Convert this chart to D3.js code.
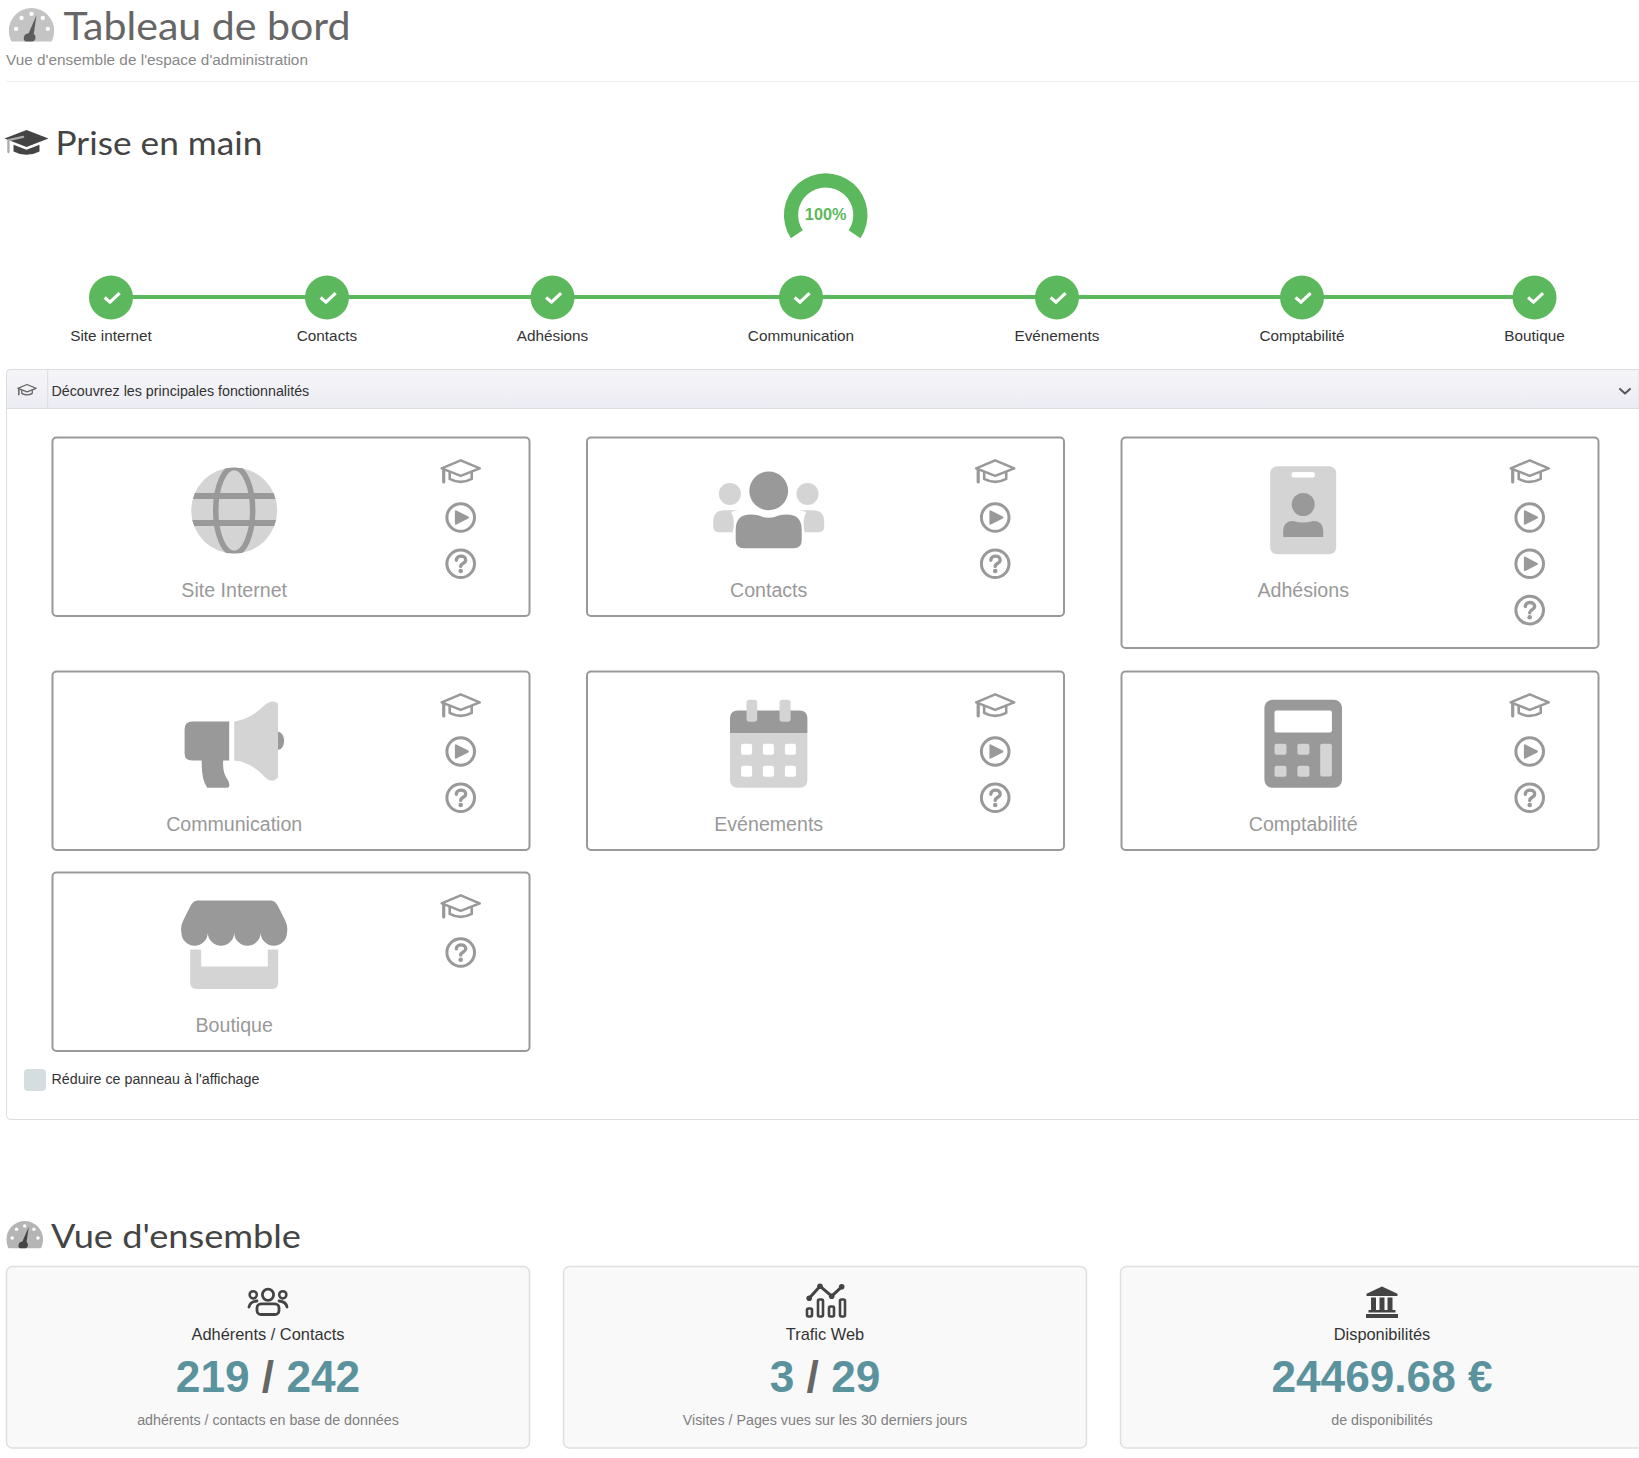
<!DOCTYPE html>
<html lang="fr">
<head>
<meta charset="utf-8">
<title>Tableau de bord</title>
<script src="https://cdn.jsdelivr.net/npm/d3@7"></script>
<style>
html, body { margin: 0; padding: 0; background: #fff; overflow: hidden; }
svg { display: block; }
text { font-family: "Liberation Sans", Arial, sans-serif; }
.head { font-family: Lato, "Open Sans", sans-serif; }
</style>
</head>
<body>
<div id="page"></div>
<script>
// values
const stepLabels = ["Site internet", "Contacts", "Adhésions", "Communication", "Evénements", "Comptabilité", "Boutique"];
const progressValue = [100];
const cardLabels = ["Site Internet", "Contacts", "Adhésions", "Communication", "Evénements", "Comptabilité", "Boutique"];
const cardIcons = ["globe", "people", "badge", "megaphone", "calendar", "calculator", "shop"];
const cardActions = [
    ["cap", "play", "help"],
    ["cap", "play", "help"],
    ["cap", "play", "play", "help"],
    ["cap", "play", "help"],
    ["cap", "play", "help"],
    ["cap", "play", "help"],
    ["cap", "help"]
];
const kpiTitles = ["Adhérents / Contacts", "Trafic Web", "Disponibilités"];
const kpiValues = [[219, 242], [3, 29], [24469.68]];
const kpiUnits = ["", "", " €"];
const kpiNotes = ["adhérents / contacts en base de données", "Visites / Pages vues sur les 30 derniers jours", "de disponibilités"];
const kpiIcons = ["group", "traffic", "bank"];

const width = 1639, height = 1458;
const GREEN = "#5cb85c", DARK = "#999", LIGHT = "#d4d4d4", TEAL = "#5a929e";

const svg = d3.select("#page").append("svg")
    .attr("width", width)
    .attr("height", height)
    .attr("viewBox", [0, 0, width, height]);

const defs = svg.append("defs");
const grad = defs.append("linearGradient").attr("id", "bandFill").attr("x2", 0).attr("y2", 1);
grad.append("stop").attr("offset", 0).attr("stop-color", "#f6f6f9");
grad.append("stop").attr("offset", 1).attr("stop-color", "#ebebf3");

function label(g, str, x, y, size, fill, anchor, weight) {
    return g.append("text")
        .attr("x", x).attr("y", y)
        .attr("font-size", size)
        .attr("fill", fill)
        .attr("text-anchor", anchor || "start")
        .attr("font-weight", weight || 400)
        .text(str);
}

function heading(str, x, y, size, fill, len) {
    return svg.append("text")
        .attr("class", "head")
        .attr("x", x).attr("y", y)
        .attr("font-size", size)
        .attr("fill", fill)
        .attr("textLength", len)
        .attr("lengthAdjust", "spacingAndGlyphs")
        .text(str);
}

function rect(g, x0, y0, x1, y1, fill, rx) {
    return g.append("rect")
        .attr("x", x0).attr("y", y0)
        .attr("width", x1 - x0).attr("height", y1 - y0)
        .attr("rx", rx || 0)
        .attr("fill", fill);
}

function stroke(g, d, color, w) {
    return g.append("path").attr("d", d)
        .attr("fill", "none")
        .attr("stroke", color)
        .attr("stroke-width", w)
        .attr("stroke-linecap", "round")
        .attr("stroke-linejoin", "round");
}

// ---- gauge pictogram next to the two titles
function dashIcon(cx, cy, r, light, dark, id) {
    defs.append("clipPath").attr("id", id)
        .append("rect").attr("x", -r).attr("y", -r).attr("width", 2 * r).attr("height", r * 1.48);
    const g = svg.append("g").attr("transform", `translate(${cx},${cy})`);
    const c = g.append("g").attr("clip-path", `url(#${id})`);
    c.append("circle").attr("r", r).attr("fill", light);
    [[-.68, -.08], [-.44, -.56], [0, -.74], [.5, -.56], [.72, -.08]].forEach(p => {
        c.append("circle").attr("cx", p[0] * r).attr("cy", p[1] * r).attr("r", r * .095).attr("fill", "#fff");
    });
    g.append("path").attr("fill", dark)
        .attr("d", `M${.22 * r} ${-.68 * r}L${.1 * r} ${.14 * r}A${.2 * r} ${.2 * r} 0 0 1 ${.06 * r} ${.48 * r}L${-.26 * r} ${.48 * r}A${.2 * r} ${.2 * r} 0 0 1 ${-.13 * r} ${.12 * r}Z`);
}

// ---- graduation cap, outlined or filled
function capOutline(g, k, color) {
    const c = g.append("g").attr("transform", `scale(${k})`);
    stroke(c, "M0-11.5L19-3.5L0 4L-19-3.5Z", color, 2.6);
    stroke(c, "M-11 0.5V7Q0 13 11 7V0.5", color, 2.6);
    stroke(c, "M-17-2V10", color, 3.2);
}

function capSolid(g, k) {
    const c = g.append("g").attr("transform", `scale(${k})`);
    c.append("path").attr("fill", "#444").attr("d", "M0-11.5L19.5-4L0 3.5L-19.5-4Z");
    c.append("path").attr("fill", "#444").attr("d", "M-11.5 1.5L0 6L11.5 1.5V7.5Q0 13.5-11.5 7.5Z");
    stroke(c, "M-3-5.5L-16-2.5V8", "#aaa", 2);
}

// ---- small round actions on the cards
const actionIcon = {
    cap(g) { capOutline(g, 1, DARK); },
    play(g) {
        g.append("circle").attr("r", 13.8).attr("fill", "none").attr("stroke", DARK).attr("stroke-width", 3);
        stroke(g, "M-4.8-6.2L7.2 0L-4.8 6.2Z", DARK, 2).attr("fill", DARK);
    },
    help(g) {
        g.append("circle").attr("r", 13.8).attr("fill", "none").attr("stroke", DARK).attr("stroke-width", 3);
        stroke(g, "M-4.4-3.6C-4-9 5-9 5-3.6C5-.4 0-.6 0 2.6", DARK, 3.4);
        g.append("circle").attr("cy", 7.2).attr("r", 2.3).attr("fill", DARK);
    }
};

// ---- big duotone card icons, drawn around the card centre, y from the card top
let clipCount = 0;
const cardIcon = {
    globe(g) {
        const id = "globeClip" + (clipCount++);
        defs.append("clipPath").attr("id", id).append("circle").attr("cy", 73).attr("r", 43);
        g.append("circle").attr("cy", 73).attr("r", 43).attr("fill", LIGHT);
        const c = g.append("g").attr("clip-path", `url(#${id})`);
        rect(c, -43, 55.5, 43, 61.5, DARK);
        rect(c, -43, 82.5, 43, 88.5, DARK);
        c.append("ellipse").attr("cy", 73).attr("rx", 18.5).attr("ry", 43)
            .attr("fill", "none").attr("stroke", DARK).attr("stroke-width", 5.5);
    },
    people(g) {
        [-1, 1].forEach(s => {
            g.append("circle").attr("cx", s * 38.8).attr("cy", 56.4).attr("r", 11).attr("fill", LIGHT);
            g.append("path").attr("fill", LIGHT).attr("transform", `scale(${s},1)`)
                .attr("d", "M36 94.7Q33 83 37.5 74.5Q33 72.5 28 72.7H44Q55.5 72.7 55.5 84V89Q55.5 94.7 50 94.7Z");
        });
        g.append("circle").attr("cy", 53.4).attr("r", 19.4).attr("fill", DARK);
        g.append("path").attr("fill", DARK)
            .attr("d", "M-33 96V92Q-33 77-18 77Q-10 77-6 79.5Q0 81 6 79.5Q10 77 18 77Q33 77 33 92V103Q33 110.7 25 110.7H-25Q-33 110.7-33 103Z");
    },
    badge(g) {
        rect(g, -33, 28.7, 33, 116.7, LIGHT, 7);
        rect(g, -11.7, 34.4, 11.7, 40, "#fff", 2.5);
        g.append("circle").attr("cy", 67).attr("r", 11.5).attr("fill", DARK);
        g.append("path").attr("fill", DARK)
            .attr("d", "M-20 99.4V93Q-20 83.4-10 83.4Q-5 85 0 85Q5 85 10 83.4Q20 83.4 20 93V99.4Z");
    },
    megaphone(g) {
        g.append("path").attr("fill", DARK)
            .attr("d", "M-5 50H-42Q-49.6 50-49.6 58V82Q-49.6 89-42 89H-32.5Q-33 108-27 116.3H-8Q-3 116.3-6 109Q-12 102-11 89H-5Z");
        g.append("ellipse").attr("cx", 43.8).attr("cy", 69.3).attr("rx", 6.2).attr("ry", 9).attr("fill", DARK);
        g.append("path").attr("fill", LIGHT)
            .attr("d", "M0 50Q16 48 30 34Q38 27 43.8 32V106Q38 113 30 105Q16 90 0 89Z");
    },
    calendar(g) {
        g.append("path").attr("fill", LIGHT)
            .attr("d", "M-38.7 61.6H38.7V108.3Q38.7 116.3 30.7 116.3H-30.7Q-38.7 116.3-38.7 108.3Z");
        g.append("path").attr("fill", DARK)
            .attr("d", "M-38.7 61.6V47Q-38.7 39-30.7 39H30.7Q38.7 39 38.7 47V61.6Z");
        rect(g, -22.2, 28.3, -11.5, 50.3, LIGHT, 3);
        rect(g, 10.8, 28.3, 21.9, 50.3, LIGHT, 3);
        [-27.6, -5.8, 16.2].forEach(x => {
            [72.3, 94.3].forEach(y => rect(g, x, y, x + 11, y + 11, "#fff", 2));
        });
    },
    calculator(g) {
        rect(g, -38.8, 28.3, 38.8, 116.3, DARK, 8);
        rect(g, -28.7, 39, 28.7, 61, "#fff", 2);
        [-28.7, -5.8].forEach(x => {
            [72.3, 94.3].forEach(y => rect(g, x, y, x + 12, y + 11, LIGHT, 2));
        });
        rect(g, 17, 72.3, 28.7, 105, LIGHT, 2);
    },
    shop(g) {
        g.append("path").attr("fill", LIGHT)
            .attr("fill-rule", "evenodd")
            .attr("d", "M-44 77H44V110Q44 116.4 38 116.4H-38Q-44 116.4-44 110ZM-33 77V94H33.6V77Z");
        g.append("path").attr("fill", DARK)
            .attr("d", "M-37 28H37Q41 28 44 34L51 48Q54 54 52.8 60A13.2 13.2 0 0 1 26.4 60A13.2 13.2 0 0 1 0 60A13.2 13.2 0 0 1-26.4 60A13.2 13.2 0 0 1-52.8 60Q-54 54-51 48L-44 34Q-41 28-37 28Z");
    }
};

// ---- line icons above the three totals, y from the kpi box top
const kpiIcon = {
    group(g) {
        g.append("circle").attr("cy", 28.3).attr("r", 5.6).attr("fill", "none").attr("stroke", "#444").attr("stroke-width", 2.8);
        [-1, 1].forEach(s => {
            g.append("circle").attr("cx", s * 14.8).attr("cy", 28.3).attr("r", 3.6).attr("fill", "none").attr("stroke", "#444").attr("stroke-width", 2.5);
            stroke(g, `M${s * 19} 40.5Q${s * 18} 35 ${s * 11} 34.5`, "#444", 2.8);
        });
        rect(g, -11, 37.4, 11, 48, "none", 4).attr("stroke", "#444").attr("stroke-width", 2.8);
    },
    traffic(g) {
        stroke(g, "M-15.8 31.7L-5 19.7L6.7 29.7L16.7 20.3", "#444", 3);
        [[-15.8, 31.7], [-5, 19.7], [6.7, 29.7], [16.7, 20.3]].forEach(p =>
            g.append("circle").attr("cx", p[0]).attr("cy", p[1]).attr("r", 2.8).attr("fill", "#444"));
        [[-18, 42], [-7, 33], [4, 40], [15, 33]].forEach(b =>
            rect(g, b[0], b[1], b[0] + 5, 50, "none", 1.5).attr("stroke", "#444").attr("stroke-width", 2.6));
    },
    bank(g) {
        g.append("path").attr("fill", "#444").attr("d", "M-15.5 27.3L0 20L15.5 27.3V29.5H-15.5Z");
        [-11, -2.5, 5.5].forEach(x => rect(g, x, 31, x + 5, 44, "#444"));
        rect(g, -13.5, 43.5, 13.5, 46, "#444");
        rect(g, -16, 47.5, 16, 51.5, "#444");
    }
};

// ---- page head
dashIcon(31.5, 30.7, 22.7, "#c4c4c4", "#5c5c5c", "dashTop");
heading("Tableau de bord", 63.5, 39.5, 39, "#666", 287);
label(svg, "Vue d'ensemble de l'espace d'administration", 6, 65, 15.37, "#888");
svg.append("line").attr("x1", 6).attr("x2", width).attr("y1", 81.5).attr("y2", 81.5).attr("stroke", "#eee");

capSolid(svg.append("g").attr("transform", "translate(26.5,143)"), 1.13);
heading("Prise en main", 55.5, 154.8, 33, "#444", 207);

// ---- progress gauge
const gaugeAngle = d3.scaleLinear().domain([0, 100]).range([-2.16, 2.16]);
const gaugeArc = d3.arc().innerRadius(27.6).outerRadius(41.8);
const gauge = svg.append("g").attr("transform", "translate(825.7,215)");
gauge.selectAll("path").data(progressValue).join("path")
    .attr("d", d => gaugeArc({startAngle: gaugeAngle(0), endAngle: gaugeAngle(d)}))
    .attr("fill", GREEN);
gauge.selectAll("text").data(progressValue).join("text")
    .attr("y", 4.5)
    .attr("text-anchor", "middle")
    .attr("font-size", 16.3)
    .attr("font-weight", 700)
    .attr("fill", GREEN)
    .text(d => d + "%");

// ---- steps
const stepX = d3.scaleOrdinal().domain(stepLabels).range([111, 327, 552.5, 801, 1057, 1302, 1534.5]);
const stepY = 297.5;
svg.append("line")
    .attr("x1", stepX(stepLabels[0])).attr("x2", stepX(stepLabels[stepLabels.length - 1]))
    .attr("y1", stepY - .5).attr("y2", stepY - .5)
    .attr("stroke", GREEN).attr("stroke-width", 4);
const steps = svg.selectAll("g.step").data(stepLabels).join("g")
    .attr("class", "step")
    .attr("transform", d => `translate(${stepX(d)},${stepY})`);
steps.append("circle").attr("r", 22).attr("fill", GREEN);
steps.append("path").attr("d", "M-6.4 0L-1 4.7L8.6-4.3")
    .attr("fill", "none").attr("stroke", "#fff").attr("stroke-width", 3.2);
steps.append("text")
    .attr("y", 43.3)
    .attr("text-anchor", "middle")
    .attr("font-size", 15.3)
    .attr("fill", "#333")
    .text(d => d);

// ---- panel
rect(svg, 6.5, 369.5, width + 20, 1119.5, "#fff", 4).attr("stroke", "#ddd");
svg.append("path").attr("d", `M6.5 408.5V373.5Q6.5 369.5 10.5 369.5H${width}V408.5Z`)
    .attr("fill", "url(#bandFill)").attr("stroke", "#ddd");
svg.append("line").attr("x1", 47.7).attr("x2", 47.7).attr("y1", 370).attr("y2", 408).attr("stroke", "#ddd");
capOutline(svg.append("g").attr("transform", "translate(27,390)"), .48, "#666");
label(svg, "Découvrez les principales fonctionnalités", 51.5, 395.7, 14.27, "#333");
stroke(svg, "M1620 389L1625 393.6L1630 389", "#555", 2);

const colX = d3.scalePoint().domain([0, 1, 2]).range([52.5, 1121.5]);
const rowY = d3.scaleOrdinal().domain([0, 1, 2]).range([437.5, 671.5, 872.5]);
const cardW = 477;
const pitch = 46.3;

const cards = svg.selectAll("g.card").data(cardLabels).join("g")
    .attr("class", "card")
    .attr("transform", (d, i) => `translate(${colX(i % 3)},${rowY(Math.floor(i / 3))})`);
cards.append("rect")
    .attr("width", cardW)
    .attr("height", (d, i) => cardActions[i].length > 3 ? 210.5 : 178.5)
    .attr("rx", 4)
    .attr("fill", "#fff")
    .attr("stroke", DARK)
    .attr("stroke-width", 2);
cards.each(function(d, i) {
    const card = d3.select(this);
    cardIcon[cardIcons[i]](card.append("g").attr("transform", "translate(181.7,0)"));
    cardActions[i].forEach((a, j) => {
        actionIcon[a](card.append("g").attr("transform", `translate(408.2,${34.4 + pitch * j - (j > 0 ? .7 : 0)})`));
    });
});
cards.append("text")
    .attr("x", 181.7)
    .attr("y", 159)
    .attr("text-anchor", "middle")
    .attr("font-size", 19.6)
    .attr("fill", DARK)
    .text(d => d);

rect(svg, 24, 1069, 46, 1091, "#d6dde0", 4);
label(svg, "Réduire ce panneau à l'affichage", 51.5, 1084, 14.27, "#333");

// ---- overview
dashIcon(24.7, 1239.5, 18.4, "#b5b5b5", "#444", "dashBottom");
heading("Vue d'ensemble", 51, 1248, 33, "#444", 250);

const kpiX = d3.scalePoint().domain([0, 1, 2]).range([6.5, 1120.5]);
const kpiW = 523;
const kpis = svg.selectAll("g.kpi").data(kpiTitles).join("g")
    .attr("class", "kpi")
    .attr("transform", (d, i) => `translate(${kpiX(i)},1266.5)`);
kpis.append("rect")
    .attr("width", kpiW).attr("height", 181.5)
    .attr("rx", 6)
    .attr("fill", "#f9f9f9")
    .attr("stroke", "#e0e0e0")
    .attr("stroke-width", 1.5);
kpis.each(function(d, i) {
    kpiIcon[kpiIcons[i]](d3.select(this).append("g").attr("transform", `translate(${kpiW / 2},0)`));
});
kpis.append("text")
    .attr("x", kpiW / 2).attr("y", 73)
    .attr("text-anchor", "middle")
    .attr("font-size", 16.4)
    .attr("fill", "#333")
    .text(d => d);
const kpiText = kpis.append("text")
    .attr("x", kpiW / 2).attr("y", 125.5)
    .attr("text-anchor", "middle")
    .attr("font-size", 44.2)
    .attr("font-weight", 700)
    .attr("fill", TEAL);
kpiText.each(function(d, i) {
    const t = d3.select(this);
    kpiValues[i].forEach((v, j) => {
        if (j > 0) t.append("tspan").attr("fill", "#666").text(" / ");
        t.append("tspan").text(v + (j === kpiValues[i].length - 1 ? kpiUnits[i] : ""));
    });
});
kpis.append("text")
    .attr("x", kpiW / 2).attr("y", 158.5)
    .attr("text-anchor", "middle")
    .attr("font-size", 14.27)
    .attr("fill", "#808080")
    .text((d, i) => kpiNotes[i]);
</script>
</body>
</html>
